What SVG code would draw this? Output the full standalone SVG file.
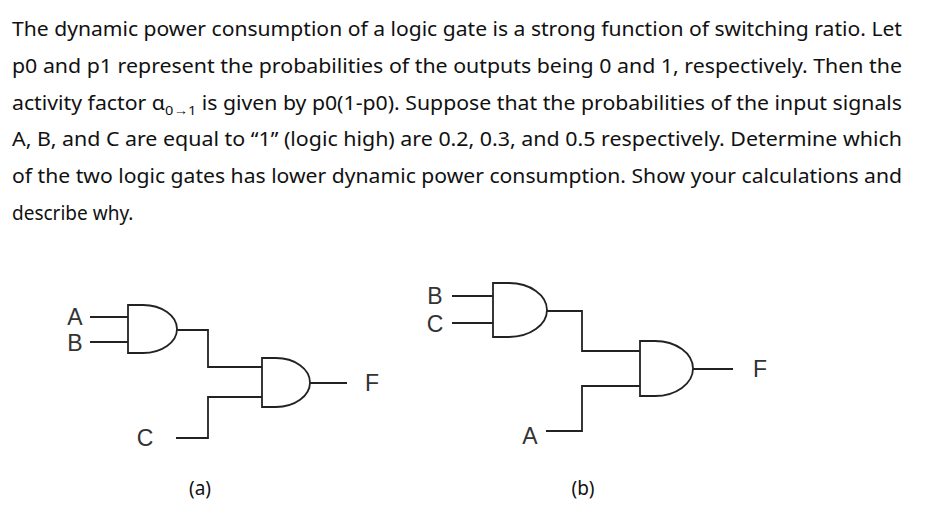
<svg xmlns="http://www.w3.org/2000/svg" width="926" height="508" viewBox="0 0 926 508">
<style>
.t{font-family:"Noto Sans","Open Sans",sans-serif;font-size:19px;fill:#111}
.l{font-family:"Liberation Sans",Arial,sans-serif;font-size:23px;fill:#333}
.g{fill:none;stroke:#222;stroke-width:1.8}
.w{fill:none;stroke:#222;stroke-width:1.8}
</style>
<rect width="926" height="508" fill="#fff"/>
<g id="text">
<text class="t" x="12" y="36" textLength="890" lengthAdjust="spacingAndGlyphs">The dynamic power consumption of a logic gate is a strong function of switching ratio. Let</text>
<text class="t" x="12" y="73" textLength="890" lengthAdjust="spacingAndGlyphs">p0 and p1 represent the probabilities of the outputs being 0 and 1, respectively. Then the</text>
<text class="t" x="12" y="110" textLength="890" lengthAdjust="spacingAndGlyphs">activity factor α<tspan font-size="13" dy="5">0→1</tspan><tspan dy="-5"> is given by p0(1-p0). Suppose that the probabilities of the input signals</tspan></text>
<text class="t" x="12" y="146" textLength="890" lengthAdjust="spacingAndGlyphs">A, B, and C are equal to “1” (logic high) are 0.2, 0.3, and 0.5 respectively. Determine which</text>
<text class="t" x="12" y="183" textLength="890" lengthAdjust="spacingAndGlyphs">of the two logic gates has lower dynamic power consumption. Show your calculations and</text>
<text class="t" x="12" y="220">describe why.</text>
</g>
<g id="gate-a1"><path class="g" d="M128,305 H143 A34,24 0 0 1 177,329 A34,24 0 0 1 143,353 H128 Z"/></g>
<g id="gate-a2"><path class="g" d="M262,358 H276 A34,24.5 0 0 1 310,382.5 A34,24.5 0 0 1 276,407 H262 Z"/></g>
<g id="gate-b1"><path class="g" d="M493,283 H509 A38,27 0 0 1 547,310 A38,27 0 0 1 509,337 H493 Z"/></g>
<g id="gate-b2"><path class="g" d="M640,341 H655 A38,27.5 0 0 1 693,368.5 A38,27.5 0 0 1 655,396 H640 Z"/></g>
<g id="connectors">
<path class="w" d="M90,317 H128 M90,342 H128 M177,330 H208 V367 H262 M176,438 H208 V397 H262 M310,383 H347"/>
<path class="w" d="M452,296 H493 M452,323 H493 M547,311 H582 V351 H640 M546,431 H582 V386 H640 M693,369 H733"/>
</g>
<g id="labels">
<text class="l" x="75" y="325" text-anchor="middle">A</text>
<text class="l" x="75" y="351" text-anchor="middle">B</text>
<text class="l" x="145" y="446" text-anchor="middle">C</text>
<text class="l" x="372" y="391" text-anchor="middle">F</text>
<text class="l" x="435" y="304" text-anchor="middle">B</text>
<text class="l" x="435" y="332" text-anchor="middle">C</text>
<text class="l" x="530" y="444" text-anchor="middle">A</text>
<text class="l" x="760" y="377" text-anchor="middle">F</text>
<text class="t" x="200" y="495" text-anchor="middle">(a)</text>
<text class="t" x="583" y="495" text-anchor="middle">(b)</text>
</g>
</svg>
